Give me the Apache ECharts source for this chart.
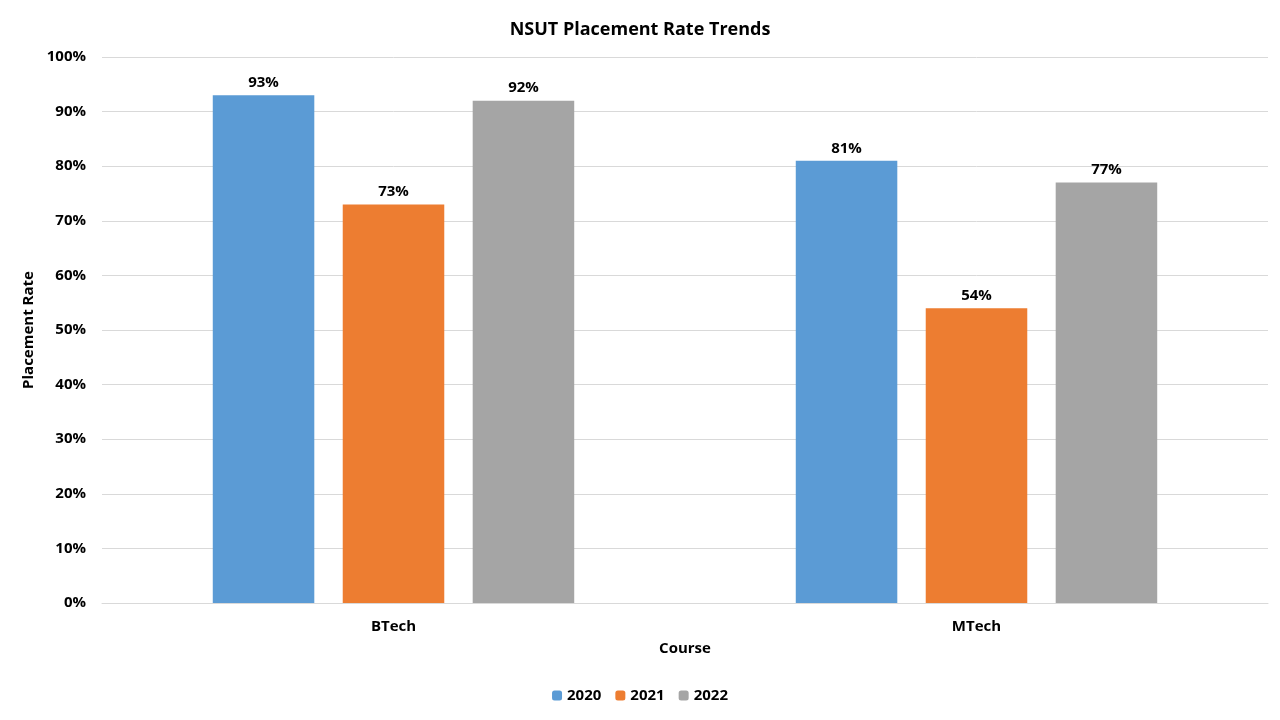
<!DOCTYPE html>
<html lang="en">
<head>
<meta charset="UTF-8">
<title>NSUT Placement Rate Trends</title>
<script src="https://cdn.jsdelivr.net/npm/echarts@6/dist/echarts.min.js"></script>
<style>html,body{margin:0;padding:0;background:#fff;}</style>
</head>
<body>
<div id="main" style="width:1280px;height:720px;"></div>
<script>
// data
var courses = ['BTech', 'MTech'];
var years = ['2020', '2021', '2022'];
var rate2020 = [93, 81];
var rate2021 = [73, 54];
var rate2022 = [92, 77];
var colors = ['#5B9BD5', '#ED7D31', '#A5A5A5'];

var font = 'Open Sans';
var values = [rate2020, rate2021, rate2022];
var series = years.map(function (y, i) {
    return {
        name: y,
        type: 'bar',
        data: values[i],
        itemStyle: { color: colors[i] },
        barGap: '28%',
        barCategoryGap: '38%',
        label: {
            show: true, position: 'top', formatter: '{c}%',
            color: '#000', fontWeight: 'bold', fontSize: 15, fontFamily: font
        }
    };
});

var myChart = echarts.init(document.getElementById('main'));
myChart.setOption({
    textStyle: { fontFamily: font },
    title: {
        text: 'NSUT Placement Rate Trends', left: 'center', top: 16,
        textStyle: { fontSize: 18, fontWeight: 'bold', color: '#000', fontFamily: font }
    },
    legend: {
        bottom: 12, itemWidth: 10, itemHeight: 10, itemGap: 14,
        textStyle: { fontSize: 15, fontWeight: 'bold', color: '#000' }
    },
    grid: { left: 102, right: 12, top: 57, bottom: 117 },
    xAxis: {
        type: 'category', data: courses,
        name: 'Course', nameLocation: 'middle', nameGap: 38,
        nameTextStyle: { fontSize: 15, fontWeight: 'bold', color: '#000' },
        axisLine: { lineStyle: { color: '#d9d9d9' } },
        axisTick: { show: false },
        axisLabel: { fontSize: 15, fontWeight: 'bold', color: '#000', margin: 16 }
    },
    yAxis: {
        type: 'value', min: 0, max: 100, interval: 10,
        name: 'Placement Rate', nameLocation: 'middle', nameGap: 66,
        nameTextStyle: { fontSize: 15, fontWeight: 'bold', color: '#000' },
        axisLabel: { formatter: '{value}%', fontSize: 15, fontWeight: 'bold', color: '#000', margin: 16 },
        splitLine: { lineStyle: { color: '#d9d9d9' } }
    },
    series: series
});
</script>
</body>
</html>
